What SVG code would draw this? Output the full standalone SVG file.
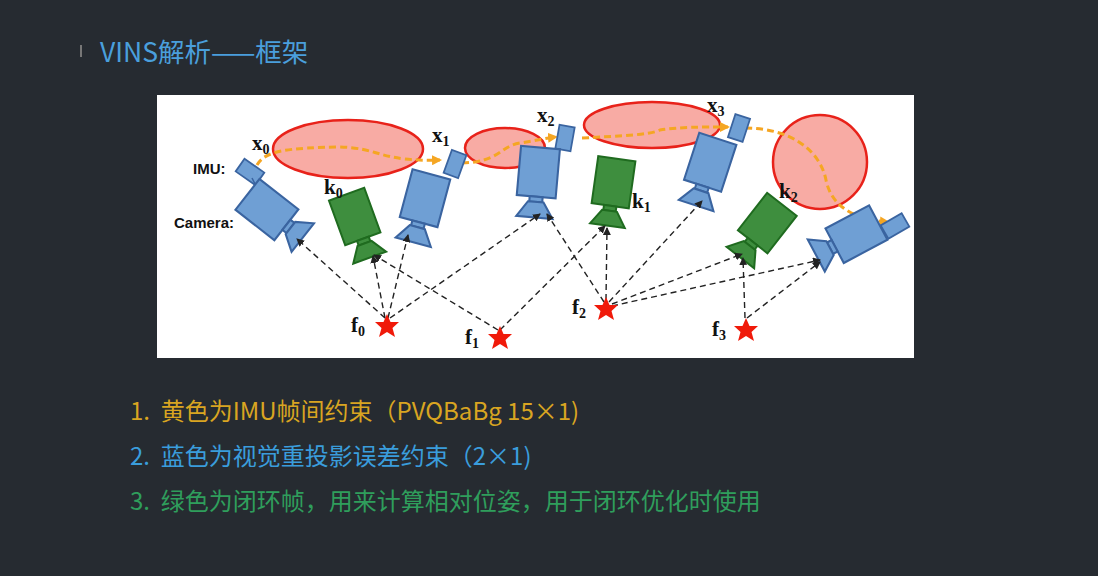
<svg xmlns="http://www.w3.org/2000/svg" width="1098" height="576" viewBox="0 0 1098 576">
<style>
.bl{fill:#6f9fd4;stroke:#3a64a0;stroke-width:1.6}
.gr{fill:#3e8e3e;stroke:#1f6b1f;stroke-width:1.6}
.el{fill:#f7a29a;fill-opacity:.9;stroke:#e8221a;stroke-width:2.5}
.dl{stroke:#222;stroke-width:1.4;stroke-dasharray:6 4;fill:none;marker-end:url(#ah)}
.lb{font-family:"Liberation Serif",serif;font-weight:bold;font-size:21px;fill:#111}
.sb{font-size:14px}
.st{fill:#f01a0a}
.li{font-family:"Noto Sans CJK SC","Noto Sans",sans-serif;font-size:24px}
</style>
<defs>
<marker id="ah" markerWidth="8" markerHeight="8" refX="7" refY="4" orient="auto" markerUnits="userSpaceOnUse"><path d="M0,0 L8,4 L0,8 z" fill="#222"/></marker>
<marker id="oa" markerWidth="10" markerHeight="10" refX="8" refY="5" orient="auto" markerUnits="userSpaceOnUse"><path d="M0,0 L10,5 L0,10 z" fill="#f5a623"/></marker>
<g id="camB"><rect x="-15" y="-22" width="30" height="38" class="bl"/><rect x="-5" y="16" width="10" height="4" class="bl"/><polygon points="-6,20 6,20 14,32 -14,32" class="bl"/></g>
<g id="camG"><rect x="-15" y="-22" width="30" height="38" class="gr"/><rect x="-5" y="16" width="10" height="4" class="gr"/><polygon points="-6,20 6,20 14,32 -14,32" class="gr"/></g>
<rect id="imu" x="-7" y="-11" width="14" height="22" class="bl"/>
<polygon id="star" points="0,-12 3.5,-4 12,-4 5.5,2 8,11 0,6 -8,11 -5.5,2 -12,-4 -3.5,-4" class="st"/>
</defs>
<rect width="1098" height="576" fill="#262b31"/>
<rect x="80" y="45" width="2" height="12" fill="#777"/>
<text x="100" y="62" font-family="Noto Sans CJK SC,sans-serif" font-size="26.5" fill="#4a9fdc">VINS解析——框架</text>
<rect x="157" y="95" width="757" height="263" fill="#fff"/>
<g id="ellipses">
<ellipse cx="348" cy="149" rx="75" ry="29" class="el"/>
<ellipse cx="505" cy="148" rx="40" ry="20" class="el"/>
<ellipse cx="652" cy="125" rx="68" ry="23" class="el"/>
<circle cx="820" cy="162" r="47" class="el"/>
</g>
<g id="imuPath" fill="none" stroke="#f5a623" stroke-width="3" stroke-dasharray="7 4">
<path d="M257,165 C265,150 290,148 340,147 C380,148 380,162 440,160" marker-end="url(#oa)"/>
<path d="M462,163 C500,162 500,146 520,143 C540,140 545,138 556,137" marker-end="url(#oa)"/>
<path d="M582,138 C620,136 650,135 660,130 C680,127 700,127 728,127" marker-end="url(#oa)"/>
<path d="M745,128 C790,128 820,150 826,180 C832,210 860,220 888,222" marker-end="url(#oa)"/>
</g>
<g id="cameras">
<g id="cam0"><use href="#imu" transform="translate(250,172) rotate(-55) scale(1.1)"/><line x1="252" y1="178" x2="268" y2="210" stroke="#3a64a0" stroke-width="1.5"/><use href="#camB" transform="translate(270,212) rotate(-52) scale(1.3)"/></g>
<g id="k0"><use href="#camG" transform="translate(356,220) rotate(-20) scale(1.25)"/></g>
<g id="cam1"><use href="#imu" transform="translate(455,164) rotate(20) scale(1.1)"/><use href="#camB" transform="translate(424,202) rotate(15) scale(1.3)"/></g>
<g id="cam2"><use href="#imu" transform="translate(565,138) rotate(10) scale(1.1)"/><use href="#camB" transform="translate(538,176) rotate(5) scale(1.3)"/></g>
<g id="k1"><use href="#camG" transform="translate(613,186) rotate(8) scale(1.25)"/></g>
<g id="cam3"><use href="#imu" transform="translate(739,128) rotate(18) scale(1.1)"/><use href="#camB" transform="translate(709,166) rotate(18) scale(1.3)"/></g>
<g id="k2"><use href="#camG" transform="translate(765,226) rotate(38) scale(1.25)"/></g>
<g id="cam4"><use href="#imu" transform="translate(895,226) rotate(60) scale(1.1)"/><use href="#camB" transform="translate(853,236) rotate(62) scale(1.3)"/></g>
</g>
<g id="connectors">
<line x1="385" y1="318" x2="297" y2="239" class="dl"/>
<line x1="385" y1="318" x2="373" y2="256" class="dl"/>
<line x1="388" y1="318" x2="408" y2="235" class="dl"/>
<line x1="390" y1="318" x2="540" y2="214" class="dl"/>
<line x1="498" y1="330" x2="374" y2="255" class="dl"/>
<line x1="500" y1="330" x2="605" y2="226" class="dl"/>
<line x1="604" y1="302" x2="547" y2="214" class="dl"/>
<line x1="606" y1="300" x2="607" y2="228" class="dl"/>
<line x1="609" y1="302" x2="702" y2="201" class="dl"/>
<line x1="612" y1="304" x2="742" y2="254" class="dl"/>
<line x1="612" y1="306" x2="820" y2="260" class="dl"/>
<line x1="745" y1="318" x2="743" y2="258" class="dl"/>
<line x1="747" y1="318" x2="820" y2="262" class="dl"/>
</g>
<g id="stars">
<use href="#star" transform="translate(387,326)"/>
<use href="#star" transform="translate(500,338)"/>
<use href="#star" transform="translate(606,309)"/>
<use href="#star" transform="translate(746,330)"/>
</g>
<g id="labels">
<text x="193" y="174" font-family="Liberation Sans,sans-serif" font-weight="bold" font-size="15" fill="#111">IMU:</text>
<text x="174" y="228" font-family="Liberation Sans,sans-serif" font-weight="bold" font-size="15" fill="#111">Camera:</text>
<text x="252" y="150" class="lb">x<tspan class="sb" dy="4">0</tspan></text>
<text x="432" y="142" class="lb">x<tspan class="sb" dy="4">1</tspan></text>
<text x="537" y="122" class="lb">x<tspan class="sb" dy="4">2</tspan></text>
<text x="707" y="112" class="lb">x<tspan class="sb" dy="4">3</tspan></text>
<text x="324" y="194" class="lb">k<tspan class="sb" dy="4">0</tspan></text>
<text x="632" y="208" class="lb">k<tspan class="sb" dy="4">1</tspan></text>
<text x="779" y="198" class="lb">k<tspan class="sb" dy="4">2</tspan></text>
<text x="351" y="332" class="lb">f<tspan class="sb" dy="4">0</tspan></text>
<text x="465" y="344" class="lb">f<tspan class="sb" dy="4">1</tspan></text>
<text x="572" y="314" class="lb">f<tspan class="sb" dy="4">2</tspan></text>
<text x="712" y="336" class="lb">f<tspan class="sb" dy="4">3</tspan></text>
</g>
<text x="130" y="420" class="li" fill="#d9a521" xml:space="preserve">1.  黄色为IMU帧间约束（PVQBaBg 15×1)</text>
<text x="130" y="465" class="li" fill="#3a9ddc" xml:space="preserve">2.  蓝色为视觉重投影误差约束（2×1)</text>
<text x="130" y="510" class="li" fill="#2f9e5c" xml:space="preserve">3.  绿色为闭环帧，用来计算相对位姿，用于闭环优化时使用</text>
</svg>
